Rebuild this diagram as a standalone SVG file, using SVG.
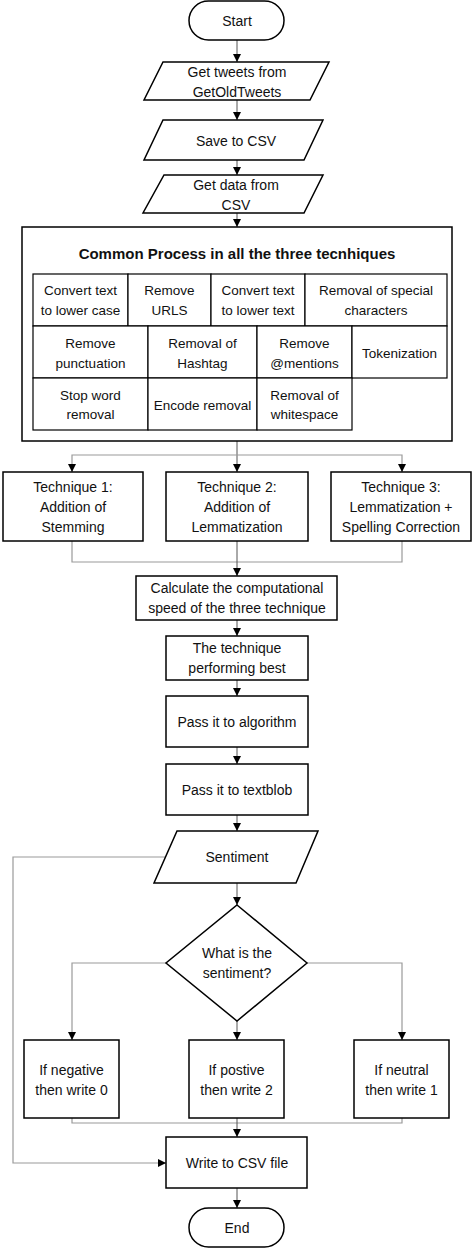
<svg xmlns="http://www.w3.org/2000/svg" width="474" height="1248" viewBox="0 0 474 1248">
<style>
.s{fill:#fff;stroke:#000;stroke-width:1.5}
.c{fill:#fff;stroke:#000;stroke-width:1.2}
text{font-family:"Liberation Sans",Arial,sans-serif;font-size:14px;fill:#111;text-anchor:middle;dominant-baseline:central}
.t{font-size:13.5px}
.b{font-weight:bold;font-size:15px}
.l{fill:none;stroke:#555;stroke-width:1}
.g{fill:none;stroke:#9a9a9a;stroke-width:1.2}
</style>
<defs>
<marker id="a" markerWidth="8" markerHeight="8" refX="8" refY="4" orient="auto" markerUnits="userSpaceOnUse">
<path d="M0,0 L8,4 L0,8 Z" fill="#000"/>
</marker>
</defs>
<rect width="474" height="1248" fill="#fff"/>
<g id="connectors">
<path class="l" d="M237,40 V62" marker-end="url(#a)"/>
<path class="l" d="M237,100 V120" marker-end="url(#a)"/>
<path class="l" d="M237,160 V175" marker-end="url(#a)"/>
<path class="l" d="M237,213 V227" marker-end="url(#a)"/>
<path class="l" d="M237,441 V472" marker-end="url(#a)"/>
<path class="g" d="M72,472 V455 H402 V472"/>
<path class="g" d="M72,468 V472" marker-end="url(#a)"/>
<path class="g" d="M402,468 V472" marker-end="url(#a)"/>
<path class="g" d="M72,541 V562 H402 V541"/>
<path class="l" d="M237,541 V576" marker-end="url(#a)"/>
<path class="l" d="M237,620 V636" marker-end="url(#a)"/>
<path class="l" d="M237,680 V696" marker-end="url(#a)"/>
<path class="l" d="M237,747 V764" marker-end="url(#a)"/>
<path class="l" d="M237,815 V831" marker-end="url(#a)"/>
<path class="l" d="M237,883 V905" marker-end="url(#a)"/>
<path class="g" d="M166,963 H72 V1040"/>
<path class="g" d="M72,1036 V1040" marker-end="url(#a)"/>
<path class="g" d="M307,963 H402 V1040"/>
<path class="g" d="M402,1036 V1040" marker-end="url(#a)"/>
<path class="l" d="M237,1021 V1040" marker-end="url(#a)"/>
<path class="g" d="M72,1118 V1123 H402 V1118"/>
<path class="l" d="M237,1118 V1137" marker-end="url(#a)"/>
<path class="g" d="M165,857 H13 V1163 H166"/>
<path class="g" d="M160,1163 H166" marker-end="url(#a)"/>
<path class="l" d="M237,1188 V1208" marker-end="url(#a)"/>
</g>
<g id="start">
<rect class="s" x="189" y="1" width="95" height="39" rx="19.5"/>
<text x="237" y="21">Start</text>
</g>
<g id="get-tweets">
<polygon class="s" points="163,62 329,62 310,100 144,100"/>
<text x="237" y="72">Get tweets from</text>
<text x="237" y="92">GetOldTweets</text>
</g>
<g id="save-csv">
<polygon class="s" points="163,120 323,120 304,160 144,160"/>
<text x="236" y="141">Save to CSV</text>
</g>
<g id="get-data">
<polygon class="s" points="164,175 323,175 304,213 143,213"/>
<text x="236" y="185">Get data from</text>
<text x="236" y="205">CSV</text>
</g>
<g id="common-process">
<rect class="s" x="22" y="227" width="430" height="214"/>
<text class="b" x="237" y="253">Common Process in all the three tecnhiques</text>
<rect class="c" x="33" y="274" width="95" height="52"/>
<rect class="c" x="128" y="274" width="83" height="52"/>
<rect class="c" x="211" y="274" width="94" height="52"/>
<rect class="c" x="305" y="274" width="142" height="52"/>
<rect class="c" x="33" y="326" width="115" height="52"/>
<rect class="c" x="148" y="326" width="109" height="52"/>
<rect class="c" x="257" y="326" width="95" height="52"/>
<rect class="c" x="352" y="326" width="95" height="52"/>
<rect class="c" x="33" y="378" width="115" height="52"/>
<rect class="c" x="148" y="378" width="109" height="52"/>
<rect class="c" x="257" y="378" width="95" height="52"/>
<text class="t" x="80.5" y="290">Convert text</text>
<text class="t" x="80.5" y="310">to lower case</text>
<text class="t" x="169.5" y="290">Remove</text>
<text class="t" x="169.5" y="310">URLS</text>
<text class="t" x="258" y="290">Convert text</text>
<text class="t" x="258" y="310">to lower text</text>
<text class="t" x="376" y="290">Removal of special</text>
<text class="t" x="376" y="310">characters</text>
<text class="t" x="90.5" y="343">Remove</text>
<text class="t" x="90.5" y="363">punctuation</text>
<text class="t" x="202.5" y="343">Removal of</text>
<text class="t" x="202.5" y="363">Hashtag</text>
<text class="t" x="304.5" y="343">Remove</text>
<text class="t" x="304.5" y="363">@mentions</text>
<text class="t" x="399.5" y="353">Tokenization</text>
<text class="t" x="90.5" y="395">Stop word</text>
<text class="t" x="90.5" y="414">removal</text>
<text class="t" x="202.5" y="405">Encode removal</text>
<text class="t" x="304.5" y="395">Removal of</text>
<text class="t" x="304.5" y="414">whitespace</text>
</g>
<g id="technique-1">
<rect class="s" x="3" y="472" width="140" height="69"/>
<text x="73" y="487">Technique 1:</text>
<text x="73" y="507">Addition of</text>
<text x="73" y="527">Stemming</text>
</g>
<g id="technique-2">
<rect class="s" x="166" y="472" width="142" height="69"/>
<text x="237" y="487">Technique 2:</text>
<text x="237" y="507">Addition of</text>
<text x="237" y="527">Lemmatization</text>
</g>
<g id="technique-3">
<rect class="s" x="331" y="472" width="140" height="69"/>
<text x="401" y="487">Technique 3:</text>
<text x="401" y="507">Lemmatization +</text>
<text x="401" y="527">Spelling Correction</text>
</g>
<g id="calculate">
<rect class="s" x="136" y="576" width="201" height="44"/>
<text x="237" y="588">Calculate the computational</text>
<text x="237" y="608">speed of the three technique</text>
</g>
<g id="best">
<rect class="s" x="166" y="636" width="142" height="44"/>
<text x="237" y="648">The technique</text>
<text x="237" y="668">performing best</text>
</g>
<g id="algorithm">
<rect class="s" x="166" y="696" width="142" height="51"/>
<text x="237" y="722">Pass it to algorithm</text>
</g>
<g id="textblob">
<rect class="s" x="166" y="764" width="142" height="51"/>
<text x="237" y="790">Pass it to textblob</text>
</g>
<g id="sentiment">
<polygon class="s" points="177,831 318,831 296,883 154,883"/>
<text x="237" y="857">Sentiment</text>
</g>
<g id="decision">
<polygon class="s" points="237,905 307,963 237,1021 166,963"/>
<text x="237" y="953">What is the</text>
<text x="237" y="973">sentiment?</text>
</g>
<g id="negative">
<rect class="s" x="24" y="1040" width="95" height="78"/>
<text x="71.5" y="1070">If negative</text>
<text x="71.5" y="1090">then write 0</text>
</g>
<g id="positive">
<rect class="s" x="189" y="1040" width="95" height="78"/>
<text x="236.5" y="1070">If postive</text>
<text x="236.5" y="1090">then write 2</text>
</g>
<g id="neutral">
<rect class="s" x="354" y="1040" width="95" height="78"/>
<text x="401.5" y="1070">If neutral</text>
<text x="401.5" y="1090">then write 1</text>
</g>
<g id="write-csv">
<rect class="s" x="166" y="1137" width="141" height="51"/>
<text x="237" y="1163">Write to CSV file</text>
</g>
<g id="end">
<rect class="s" x="189" y="1208" width="95" height="39" rx="19.5"/>
<text x="237" y="1228">End</text>
</g>
</svg>
